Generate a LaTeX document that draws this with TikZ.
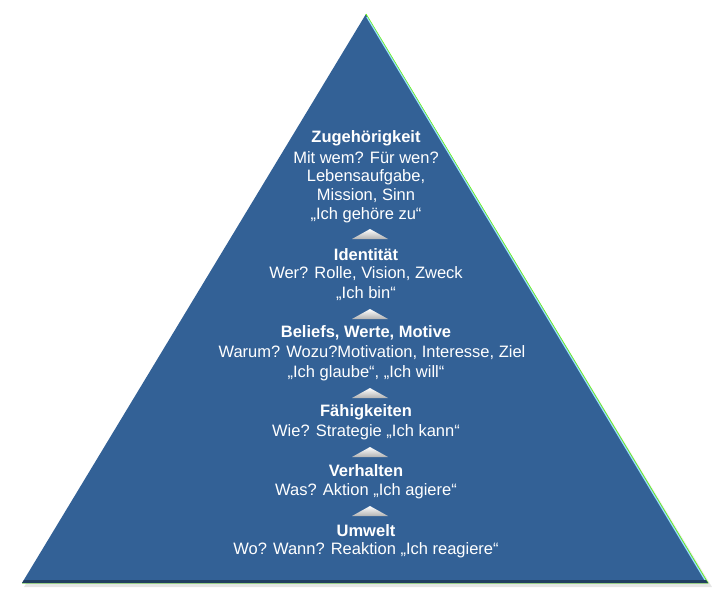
\documentclass[tikz,border=0pt]{standalone}
\usepackage{fontspec}
\setmainfont{Liberation Sans}
\begin{document}
\begin{tikzpicture}[x=1pt,y=-1pt,
  t/.style={text=white,font=\fontsize{16.5}{18}\selectfont,align=center,inner sep=0pt},
  b/.style={t,font=\fontsize{16.5}{18}\selectfont\bfseries}]
\useasboundingbox (0,0) rectangle (727,599);
\definecolor{pyr}{RGB}{51,97,150}
\fill[black!20,opacity=0.5] (24,587) -- (368,18) -- (712,587) -- cycle;
\coordinate (A) at (366,14); \coordinate (L) at (22,583); \coordinate (R) at (708,583);
\fill[pyr] (A) -- (L) -- (R) -- cycle;
\draw[green!60!yellow,line width=0.8pt] (A) -- (R) -- (L);
\draw[cyan!40!white,line width=1.2pt] (366.8,17) -- (705,580);
\fill[pyr!65!black] (24,580) -- (706,580) -- (R) -- (L) -- cycle;
\def\tri#1{\shade[top color=white,bottom color=gray!60] (352,#1+5) -- (370,#1-5) -- (388,#1+5) -- cycle;}
\node[b] (z1) at (366,138) {Zugehörigkeit};
\node[t] (z2) at (366,158) {Mit wem? Für wen?};
\node[t] (z3) at (366,177) {Lebensaufgabe,};
\node[t] (z4) at (366,196) {Mission, Sinn};
\node[t] (z5) at (366,215) {„Ich gehöre zu“};
\tri{234}
\node[b] (i1) at (366,255) {Identität};
\node[t] (i2) at (366,274) {Wer? Rolle, Vision, Zweck};
\node[t] (i3) at (366,294) {„Ich bin“};
\tri{314}
\node[b] (w1) at (366,333) {Beliefs, Werte, Motive};
\node[t] (w2) at (372,353) {Warum? Wozu?Motivation, Interesse, Ziel};
\node[t] (w3) at (366,373) {„Ich glaube“, „Ich will“};
\tri{393}
\node[b] (f1) at (366,412) {Fähigkeiten};
\node[t] (f2) at (366,432) {Wie? Strategie „Ich kann“};
\tri{452}
\node[b] (v1) at (366,471) {Verhalten};
\node[t] (v2) at (366,491) {Was? Aktion „Ich agiere“};
\tri{511}
\node[b] (u1) at (366,531) {Umwelt};
\node[t] (u2) at (366,550) {Wo? Wann? Reaktion „Ich reagiere“};
\end{tikzpicture}
\end{document}
